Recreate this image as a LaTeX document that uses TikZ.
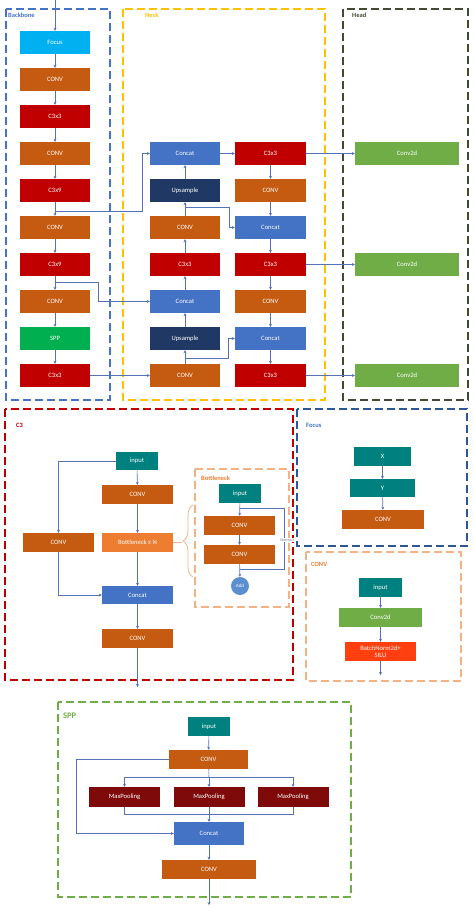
\documentclass[tikz,border=0pt]{standalone}
\usepackage{fontspec}
\setmainfont{Carlito}
\usetikzlibrary{arrows.meta,decorations.pathreplacing}

\definecolor{cFocus}{HTML}{00B0F0}
\definecolor{cConv}{HTML}{C55A11}
\definecolor{cCtre}{HTML}{C00000}
\definecolor{cSpp}{HTML}{00B050}
\definecolor{cConcat}{HTML}{4472C4}
\definecolor{cUp}{HTML}{203864}
\definecolor{cHead}{HTML}{70AD47}
\definecolor{cInput}{HTML}{00807F}
\definecolor{cBott}{HTML}{ED7D31}
\definecolor{cBn}{HTML}{FF3F0F}
\definecolor{cPool}{HTML}{7F0A0A}
\definecolor{cAdd}{HTML}{5B8FD0}
\definecolor{cArr}{HTML}{5571B8}
\definecolor{cNeck}{HTML}{FFC000}
\definecolor{cHeadF}{HTML}{3F4B33}
\definecolor{cBrace}{HTML}{F4B183}
\definecolor{cFocusF}{HTML}{2F5597}

\begin{document}
\begin{tikzpicture}[x=1pt, y=-1pt,
    blk/.style={fill=#1, text=white, inner sep=0pt, minimum width=70pt, minimum height=23pt, font=\fontsize{6.6}{7}\selectfont, align=center},
    arr/.style={draw=cArr, line width=0.6pt, -{Stealth[length=3pt,width=3pt]}},
    ln/.style={draw=cArr, line width=0.6pt},
    frame/.style={draw=#1, line width=1.2pt, dash pattern=on 8pt off 4pt},
    flab/.style={text=#1, anchor=west, inner sep=0pt, font=\fontsize{6.5}{7}\selectfont\bfseries}]
    \useasboundingbox (0,0) rectangle (474,914);

    % Cornici
    \draw[frame=cConcat] (6,9) rectangle (110,400);
    \draw[frame=cNeck] (123,9) rectangle (325,400);
    \draw[frame=cHeadF] (343,9) rectangle (468,400);
    \draw[frame=cCtre] (5,409) rectangle (293,680);
    \draw[frame=cBrace] (195,469) rectangle (289,607);
    \draw[frame=cFocusF] (297,409) rectangle (467,546);
    \draw[frame=cBrace] (306,552) rectangle (461,681);
    \draw[frame=cHead] (58,702) rectangle (351,897);

    \node[flab=cConcat] at (8,15) {Backbone};
    \node[flab=cNeck] at (145,15) {Neck};
    \node[flab=cHeadF] at (352,15) {Head};
    \node[flab=cCtre] at (16,425) {C3};
    \node[flab=cBott] at (201,478) {Bottleneck};
    \node[flab=cConcat] at (306,425) {Focus};
    \node[flab=cBott] at (311,564) {CONV};
    \node[flab=cHead, font=\fontsize{8.5}{9}\selectfont\bfseries] at (63,716) {SPP};

    % Backbone
    \foreach \name/\lab/\col [count=\i from 0] in {bb1/Focus/cFocus, bb2/CONV/cConv, bb3/C3x3/cCtre, bb4/CONV/cConv, bb5/C3x9/cCtre, bb6/CONV/cConv, bb7/C3x9/cCtre, bb8/CONV/cConv, bb9/SPP/cSpp, bb10/C3x3/cCtre}
        \node[blk=\col] (\name) at (55,42.5+37*\i) {\lab};

    % Neck
    \foreach \name/\lab/\col [count=\i from 3] in {nCatA/Concat/cConcat, nUpA/Upsample/cUp, nConvA/CONV/cConv, nCtreA/C3x3/cCtre, nCatB/Concat/cConcat, nUpB/Upsample/cUp, nConvB/CONV/cConv}
        \node[blk=\col] (\name) at (185,42.5+37*\i) {\lab};
    \foreach \name/\lab/\col [count=\i from 3] in {nCtreB/C3x3/cCtre, nConvC/CONV/cConv, nCatC/Concat/cConcat, nCtreC/C3x3/cCtre, nConvD/CONV/cConv, nCatD/Concat/cConcat, nCtreD/C3x3/cCtre}
        \node[blk=\col, minimum width=71pt] (\name) at (270.5,42.5+37*\i) {\lab};

    % Head
    \foreach \name/\i in {hA/3, hB/6, hC/9}
        \node[blk=cHead, minimum width=104pt] (\name) at (407,42.5+37*\i) {Conv2d};

    % Collegamenti principali
    \coordinate (start) at (55,0);
    \draw[arr] (start) -- (bb1);
    \foreach \a/\b in {bb1/bb2, bb2/bb3, bb3/bb4, bb4/bb5, bb5/bb6, bb6/bb7, bb7/bb8, bb8/bb9, bb9/bb10,
        nConvB/nUpB, nUpB/nCatB, nCatB/nCtreA, nCtreA/nConvA, nConvA/nUpA, nUpA/nCatA, nCatA/nCtreB,
        nCtreB/nConvC, nConvC/nCatC, nCatC/nCtreC, nCtreC/nConvD, nConvD/nCatD, nCatD/nCtreD,
        bb10/nConvB, nCtreB/hA, nCtreC/hB, nCtreD/hC}
        \draw[arr] (\a) -- (\b);
    \draw[arr] ([yshift=-9pt]bb5.south) -- ++(87,0) |- (nCatA);
    \draw[arr] ([yshift=-6pt]bb7.south) -- ++(43,0) |- (nCatB);
    \draw[arr] ([yshift=9pt]nConvA.north) -- ++(44,0) |- (nCatC);
    \draw[arr] ([yshift=6pt]nConvB.north) -- ++(43,0) |- (nCatD);

    % C3
    \node[blk=cInput, minimum width=42pt, minimum height=18pt] (cIn) at (137,461) {input};
    \node[blk=cConv, minimum width=71pt, minimum height=19pt] (cConvA) at (137.5,494.5) {CONV};
    \node[blk=cBott, minimum width=71pt, minimum height=19pt] (cBot) at (137.5,542.5) {Bottleneck x N};
    \node[blk=cConv, minimum width=71pt, minimum height=19pt] (cConvB) at (58.5,542.5) {CONV};
    \node[blk=cConcat, minimum width=71pt, minimum height=18pt] (cCat) at (137.5,595) {Concat};
    \node[blk=cConv, minimum width=71pt, minimum height=19pt] (cConvC) at (137.5,638.5) {CONV};
    \coordinate (cOut) at (137.5,687);
    \foreach \a/\b in {cIn/cConvA, cConvA/cBot, cBot/cCat, cCat/cConvC, cConvC/cOut}
        \draw[arr] (\a) -- (\b);
    \draw[arr] (cIn) -| (cConvB);
    \draw[arr] (cConvB) |- (cCat);

    % Bottleneck
    \node[blk=cInput, minimum width=42pt, minimum height=19pt] (bIn) at (240,493.5) {input};
    \node[blk=cConv, minimum width=71pt, minimum height=19pt] (bConvA) at (239.5,525.5) {CONV};
    \node[blk=cConv, minimum width=71pt, minimum height=19pt] (bConvB) at (239.5,554.5) {CONV};
    \node[circle, fill=cAdd, text=white, inner sep=0pt, minimum size=18pt, font=\fontsize{5}{5}\selectfont] (bAdd) at (240,586) {Add};
    \foreach \a/\b in {bIn/bConvA, bConvA/bConvB, bConvB/bAdd}
        \draw[arr] (\a) -- (\b);
    \draw[ln] ([yshift=-5pt]bIn.south) -| ([xshift=9pt, yshift=-5pt]bConvB.south east) -- ([yshift=-5pt]bConvB.south);
    \node[fill=white, inner sep=0.4pt, text=gray, font=\fontsize{4}{4}\selectfont] (shortcut) at (287,540) {Shortcut};
    \draw[decorate, decoration={brace, amplitude=10pt}, draw=cBrace, line width=0.8pt] (193,577) -- (193,505);
    \draw[draw=cBrace, line width=0.8pt] (cBot.east) -- ++(9,0);

    % Focus
    \node[blk=cInput, minimum width=57pt, minimum height=19pt] (fX) at (382.5,456.5) {X};
    \node[blk=cInput, minimum width=65pt, minimum height=18pt] (fY) at (382.5,488) {Y};
    \node[blk=cConv, minimum width=82pt, minimum height=19pt] (fConv) at (383,519.5) {CONV};
    \draw[arr] (fX) -- (fY);
    \draw[arr] (fY) -- (fConv);

    % CONV
    \node[blk=cInput, minimum width=43pt, minimum height=19pt] (vIn) at (380.5,587.5) {input};
    \node[blk=cHead, minimum width=83pt, minimum height=19pt] (vConv) at (380.5,617.5) {Conv2d};
    \node[blk=cBn, minimum width=71pt, minimum height=19pt] (vBn) at (380.5,651.5) {BatchNorm2d+\\SILU};
    \coordinate (vOut) at (380.5,675);
    \foreach \a/\b in {vIn/vConv, vConv/vBn, vBn/vOut}
        \draw[arr] (\a) -- (\b);

    % SPP
    \node[blk=cInput, minimum width=42pt, minimum height=19pt] (sIn) at (209,726.5) {input};
    \node[blk=cConv, minimum width=79pt, minimum height=19pt] (sConv) at (208.5,759.5) {CONV};
    \foreach \name/\x in {sPoolA/124.5, sPoolB/209, sPoolC/293}
        \node[blk=cPool, minimum width=71pt, minimum height=20pt] (\name) at (\x,797) {MaxPooling};
    \node[blk=cConcat, minimum width=70pt, minimum height=23pt] (sCat) at (209,833.5) {Concat};
    \node[blk=cConv, minimum width=94pt, minimum height=19pt] (sConvB) at (209,869.5) {CONV};
    \coordinate (sSplit) at (209,777);
    \coordinate (sJoin) at (209,814);
    \coordinate (sOut) at (209,905);
    \draw[arr] (sIn) -- (sConv);
    \draw[ln] (sConv) -- (sSplit);
    \draw[arr] (sSplit) -| (sPoolA);
    \draw[arr] (sSplit) -| (sPoolC);
    \draw[arr] (sSplit) -- (sPoolB);
    \draw[ln] (sPoolA) |- (sJoin);
    \draw[ln] (sPoolC) |- (sJoin);
    \draw[ln] (sPoolB) -- (sJoin);
    \draw[arr] (sJoin) -- (sCat);
    \draw[arr] (sConv.west) -- ++(-93,0) |- (sCat);
    \draw[arr] (sCat) -- (sConvB);
    \draw[arr] (sConvB) -- (sOut);
\end{tikzpicture}
\end{document}
